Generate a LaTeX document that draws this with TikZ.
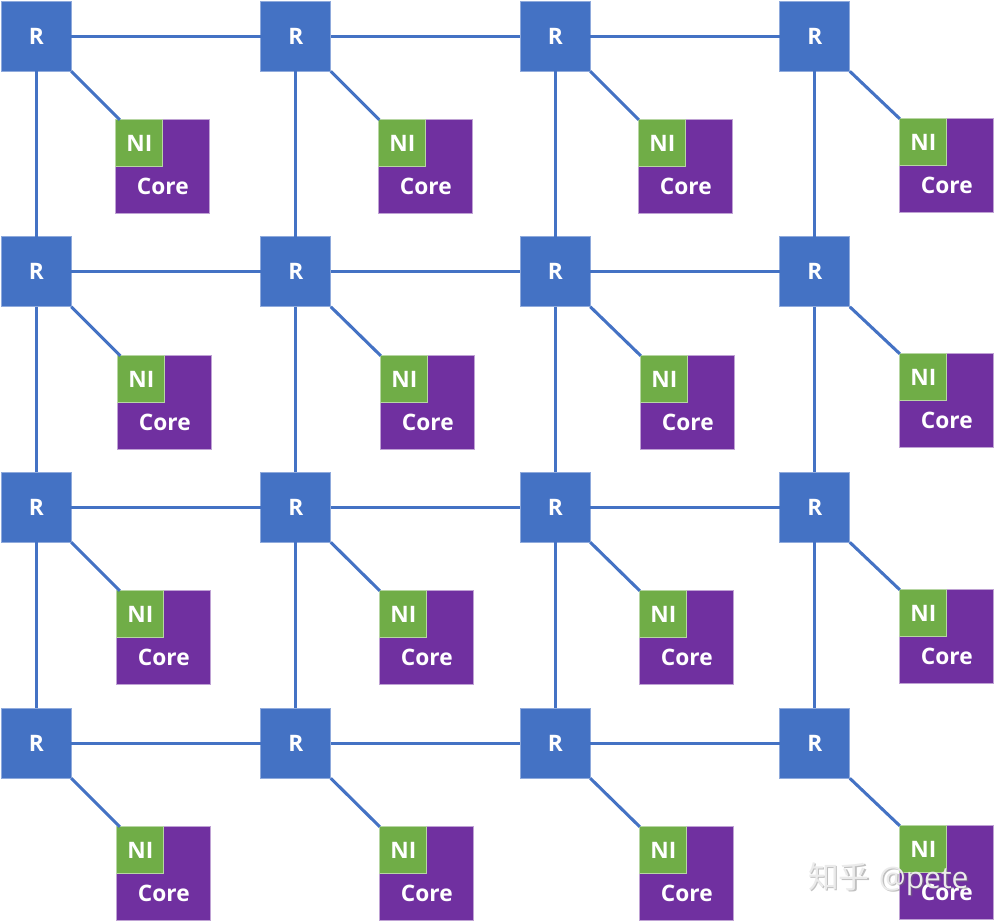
\documentclass[tikz,border=0pt]{standalone}
\usepackage{fontspec}
\setmainfont{Open Sans}[BoldFont=Open Sans Bold]
\newfontfamily\cjkwm{Noto Sans CJK SC}
\newfontfamily\latwm{Open Sans}
\usetikzlibrary{calc}
\definecolor{rblue}{HTML}{4472C4}
\definecolor{nigreen}{HTML}{70AD47}
\definecolor{corepurple}{HTML}{7030A0}
\tikzset{
  routerbox/.style={draw=rblue!60!white,line width=0.5pt,fill=rblue,text=white,minimum size=52.5pt,inner sep=0pt,outer sep=0pt,font=\fontsize{17}{17}\selectfont\bfseries},
  corebox/.style={draw=corepurple!45!white,line width=0.5pt,fill=corepurple,minimum size=70.5pt,inner sep=0pt,outer sep=0pt,anchor=north west},
  nibox/.style={draw=nigreen!50!white,line width=0.5pt,fill=nigreen,text=white,minimum size=35.25pt,inner sep=0pt,outer sep=0pt,anchor=north west,font=\fontsize{17}{17}\selectfont\bfseries},
  corelabel/.style={text=white,inner sep=0pt,font=\fontsize{17}{17}\selectfont\bfseries},
  link/.style={draw=rblue,line width=2.3pt},
  wmshadow/.style={text=black!55,opacity=.45,inner sep=0pt,anchor=base west},
  wmtext/.style={text=white!92!black,inner sep=0pt,anchor=base west}
}
\begin{document}
\begin{tikzpicture}[x=0.75pt,y=-0.75pt]
\useasboundingbox (0,0) rectangle (995,923);
\begin{scope}[shift={(-0.2,-0.2)}]
% routers
\foreach \cl/\px in {1/36.5,2/296,3/555.5,4/815}
  \foreach \rw/\py in {1/36.5,2/272,3/507.5,4/743.5}
    \node[routerbox] (R\rw\cl) at (\px,\py) {R};
% core and network-interface blocks
\foreach \rw/\cl/\px/\py in {
  1/1/116/120,1/2/379/120,1/3/639/120,1/4/900/119,
  2/1/118/356,2/2/381/356,2/3/641/356,2/4/900/354,
  3/1/117/591,3/2/380/591,3/3/640/591,3/4/900/590,
  4/1/117/827,4/2/380/827,4/3/640/827,4/4/900/826}{
  \node[corebox] (C\rw\cl) at (\px,\py) {};
  \node[nibox] (N\rw\cl) at (\px,\py) {NI};
  \node[corelabel] (L\rw\cl) at ($(C\rw\cl.south)+(0,-27.5)$) {Core};
  % diagonal link at 45 degrees, landing on the top edge of the NI block
  \draw[link] let \p1=(R\rw\cl.south east), \p2=(N\rw\cl.north west),
    \n1={max(\x1+\y1-\y2,\x2)} in (\p1) -- (\n1,\y2);
}
% mesh links
\foreach \rw in {1,2,3,4}{
  \draw[link] (R\rw1) -- (R\rw2);
  \draw[link] (R\rw2) -- (R\rw3);
  \draw[link] (R\rw3) -- (R\rw4);
}
\foreach \cl in {1,2,3,4}{
  \draw[link] (R1\cl) -- (R2\cl);
  \draw[link] (R2\cl) -- (R3\cl);
  \draw[link] (R3\cl) -- (R4\cl);
}
\end{scope}
% watermark
\node[wmshadow] (ws) at (809.5,889.5) {\fontsize{23}{23}\selectfont\cjkwm 知乎\hspace{0.3em}\fontsize{22.5}{22.5}\selectfont\latwm @pete};
\node[wmtext] (wt) at (808,888) {\fontsize{23}{23}\selectfont\cjkwm 知乎\hspace{0.3em}\fontsize{22.5}{22.5}\selectfont\latwm @pete};
\end{tikzpicture}
\end{document}
